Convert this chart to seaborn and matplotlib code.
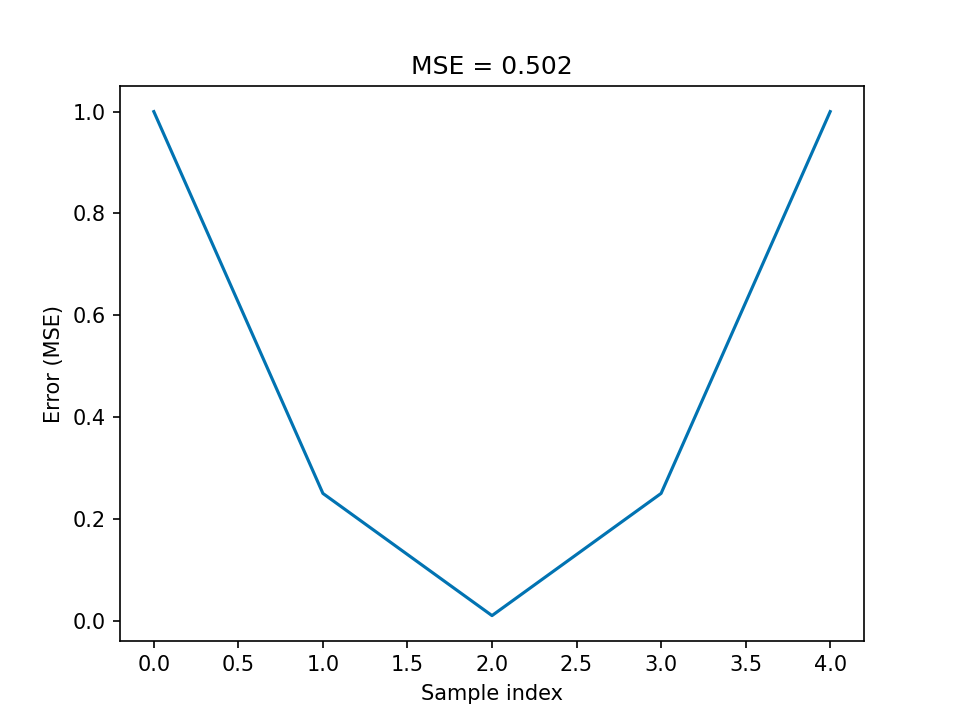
import matplotlib
matplotlib.use('Agg')
import matplotlib.pyplot as plt
import seaborn as sns
import pandas as pd

sample_index = [0, 1, 2, 3, 4]
errors = [1.0, 0.25, 0.01, 0.25, 1.0]

df = pd.DataFrame({'Sample index': sample_index, 'Error (MSE)': errors})
mse = sum(errors) / len(errors)

fig, ax = plt.subplots(figsize=(6.4, 4.8), dpi=150)
sns.lineplot(data=df, x='Sample index', y='Error (MSE)', ax=ax,
             color=sns.color_palette('colorblind')[0])
ax.set_title(f'MSE = {mse:.3f}')
ax.set_xlabel('Sample index')
ax.set_ylabel('Error (MSE)')
plt.savefig('out.png', dpi=150)
